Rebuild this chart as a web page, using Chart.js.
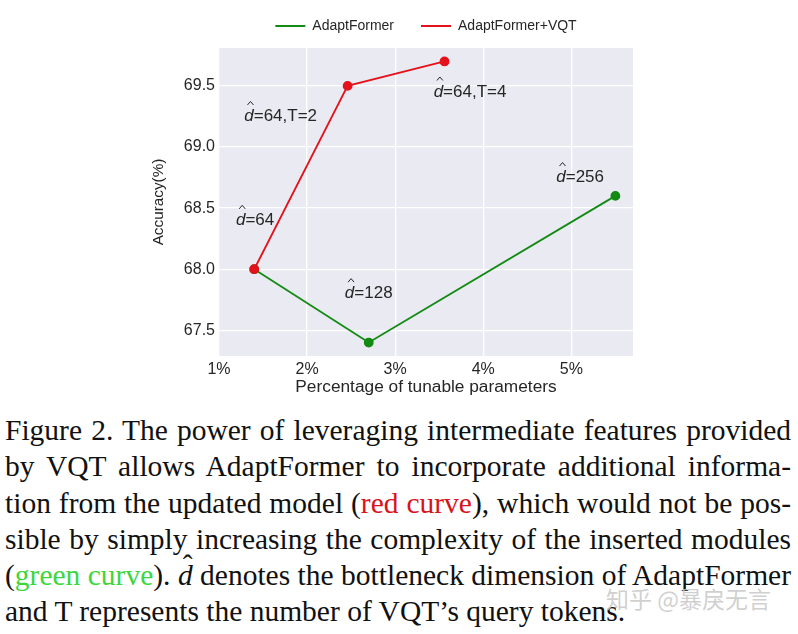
<!DOCTYPE html>
<html>
<head>
<meta charset="utf-8">
<script src="https://cdn.jsdelivr.net/npm/chart.js@4"></script>
<style>
  body { margin: 0; background: #fff; width: 798px; height: 634px; overflow: hidden; position: relative; }
  #wrap { position: absolute; left: 0; top: -8px; width: 798px; height: 413px; }
  #caption { position: absolute; left: 5px; top: 412px; width: 786px; font-family: "Liberation Serif", serif; font-size: 29.5px; line-height: 36.3px; color: #111; }
  #caption div { text-align: justify; text-align-last: justify; white-space: nowrap; }
  #caption div.last { text-align-last: left; }
  .red { color: #d7141b; }
  .green { color: #3ed63e; }
  .dhat { font-style: italic; position: relative; display: inline-block; }
  .dhat::before { content: "\02C6"; position: absolute; left: 0.16em; top: -0.22em; font-style: normal; line-height: 1; }
  #wm { position: absolute; left: 606px; top: 581px; font-family: "Noto Sans CJK SC", sans-serif; font-size: 23px; color: rgba(200,200,200,0.85); }
</style>
</head>
<body>
<div id="wrap"><canvas id="chart"></canvas></div>
<div id="caption">
  <div>Figure 2. The power of leveraging intermediate features provided</div>
  <div>by VQT allows AdaptFormer to incorporate additional informa-</div>
  <div>tion from the updated model (<span class="red">red curve</span>), which would not be pos-</div>
  <div>sible by simply increasing the complexity of the inserted modules</div>
  <div>(<span class="green">green curve</span>). <span class="dhat">d</span> denotes the bottleneck dimension of AdaptFormer</div>
  <div class="last">and T represents the number of VQT’s query tokens.</div>
</div>
<div id="wm">知乎 @暴戾无言</div>
<script>
// Données (pourcentage de paramètres, précision)
const adaptX = [1.4, 2.7, 5.5];
const adaptY = [68.0, 67.4, 68.6];
const vqtX = [1.4, 2.46, 3.56];
const vqtY = [68.0, 69.5, 69.7];
const xTicks = [1, 2, 3, 4, 5];
const yTicks = [67.5, 68.0, 68.5, 69.0, 69.5];
// Étiquettes : texte après le d chapeau, et ancre en coordonnées des données
const labelText = ['=64,T=2', '=64,T=4', '=64', '=128', '=256'];
const labelX = [1.70, 3.85, 1.41, 2.70, 5.10];
const labelY = [69.25, 69.45, 68.40, 67.80, 68.75];

const toPoints = (xs, ys) => xs.map((x, i) => ({ x, y: ys[i] }));
const sans = '"Liberation Sans", sans-serif';

// Fond gris du graphique (style seaborn)
const bgPlugin = {
  id: 'bg',
  beforeDraw(chart) {
    const { ctx, chartArea: a } = chart;
    ctx.save();
    ctx.fillStyle = '#eaeaf2';
    ctx.fillRect(a.left, a.top, a.right - a.left, a.bottom - a.top);
    ctx.restore();
  }
};

// Étiquettes "d̂=..." dessinées dans le graphique
const labelPlugin = {
  id: 'dlabels',
  afterDatasetsDraw(chart) {
    const { ctx, scales } = chart;
    ctx.save();
    ctx.fillStyle = '#262626';
    ctx.strokeStyle = '#262626';
    ctx.textBaseline = 'middle';
    ctx.textAlign = 'left';
    labelText.forEach((txt, i) => {
      const cx = scales.x.getPixelForValue(labelX[i]);
      const cy = scales.y.getPixelForValue(labelY[i]);
      ctx.font = 'italic 17px ' + sans;
      const dw = ctx.measureText('d').width;
      ctx.font = '17px ' + sans;
      const tw = ctx.measureText(txt).width;
      const x0 = cx - (dw + tw) / 2;
      ctx.font = 'italic 17px ' + sans;
      ctx.fillText('d', x0, cy);
      // petit chapeau au-dessus du d
      const hx = x0 + dw / 2 + 1.5;
      const hy = cy - 15;
      ctx.lineWidth = 1;
      ctx.beginPath();
      ctx.moveTo(hx - 3, hy + 3.5);
      ctx.lineTo(hx, hy);
      ctx.lineTo(hx + 3, hy + 3.5);
      ctx.stroke();
      ctx.font = '17px ' + sans;
      ctx.fillText(txt, x0 + dw, cy);
    });
    ctx.restore();
  }
};

const tickFont = { family: sans, size: 16 };

new Chart(document.getElementById('chart'), {
  type: 'scatter',
  data: {
    datasets: [
      {
        label: 'AdaptFormer',
        data: toPoints(adaptX, adaptY),
        showLine: true,
        order: 1,
        borderColor: '#138a13',
        backgroundColor: '#138a13',
        borderWidth: 1.8,
        pointRadius: 4,
        pointHoverRadius: 4
      },
      {
        label: 'AdaptFormer+VQT',
        data: toPoints(vqtX, vqtY),
        showLine: true,
        order: 0,
        borderColor: '#e3121b',
        backgroundColor: '#e3121b',
        borderWidth: 1.8,
        pointRadius: 4,
        pointHoverRadius: 4
      }
    ]
  },
  options: {
    responsive: true,
    maintainAspectRatio: false,
    animation: false,
    layout: { padding: { left: 150, right: 165, top: 0, bottom: 7 } },
    plugins: {
      tooltip: { enabled: false },
      // sous-titre vide : simple espace entre la légende et le graphique
      subtitle: {
        display: true,
        text: '',
        fullSize: false,
        font: { size: 1, lineHeight: 1 },
        padding: { top: 0, bottom: 4 }
      },
      legend: {
        position: 'top',
        fullSize: false,
        weight: 2000,
        labels: {
          usePointStyle: true,
          pointStyle: 'line',
          pointStyleWidth: 30,
          padding: 27,
          color: '#262626',
          font: { family: sans, size: 14 },
          generateLabels(chart) {
            return [chart.data.datasets[0], chart.data.datasets[1]].map((ds, i) => ({
              text: ds.label,
              strokeStyle: ds.borderColor,
              fillStyle: ds.borderColor,
              lineWidth: 2,
              pointStyle: 'line',
              datasetIndex: i,
              fontColor: '#262626'
            }));
          }
        }
      }
    },
    scales: {
      x: {
        type: 'linear',
        min: 1,
        max: 5.7,
        afterBuildTicks(axis) { axis.ticks = xTicks.map(v => ({ value: v })); },
        ticks: { color: '#262626', font: tickFont, padding: 4, callback: v => v + '%' },
        grid: { color: '#ffffff', lineWidth: 1.3, drawTicks: false },
        border: { display: false },
        title: { display: true, text: 'Percentage of tunable parameters', color: '#262626', font: { family: sans, size: 17.3 }, padding: { top: 0, bottom: 0 } },
        afterFit(axis) { axis.height = 42; }
      },
      y: {
        type: 'linear',
        min: 67.29,
        max: 69.81,
        afterBuildTicks(axis) { axis.ticks = yTicks.map(v => ({ value: v })); },
        ticks: { color: '#262626', font: tickFont, padding: 4, callback: v => v.toFixed(1) },
        grid: { color: '#ffffff', lineWidth: 1.3, drawTicks: false },
        border: { display: false },
        title: { display: true, text: 'Accuracy(%)', color: '#262626', font: { family: sans, size: 15.3 }, padding: { top: 0, bottom: 6 } },
        afterFit(axis) { axis.width = 69; }
      }
    }
  },
  plugins: [bgPlugin, labelPlugin]
});
</script>
</body>
</html>
